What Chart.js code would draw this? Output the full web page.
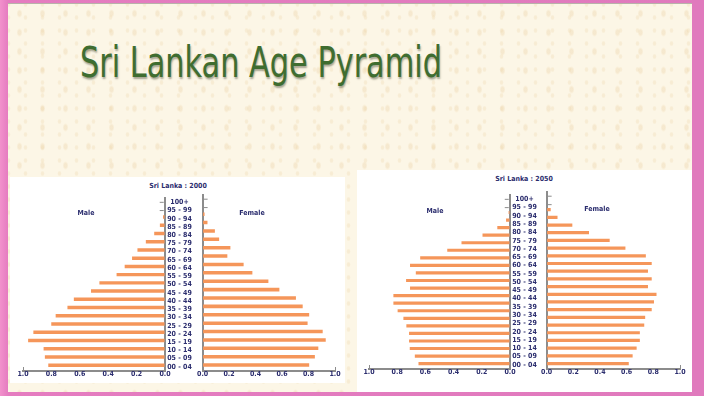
<!DOCTYPE html>
<html>
<head>
<meta charset="utf-8">
<script src="https://cdn.jsdelivr.net/npm/chart.js@4.4.0/dist/chart.umd.min.js"></script>
<style>
html, body { margin: 0; padding: 0; }
body { width: 704px; height: 396px; position: relative; overflow: hidden;
       background: linear-gradient(90deg, #f291cc 0px, #e57cc0 8px, #e07abd 700px); }
#slide { position: absolute; left: 8px; top: 3px; width: 684px; height: 389px;
         border-top: 1px solid #b8b2aa; box-sizing: border-box;
         background-color: #fcf6e6;
         background-image:
           radial-gradient(ellipse 4px 6px at 50% 50%, rgba(236,212,168,0.38) 35%, rgba(255,255,255,0) 75%),
           radial-gradient(ellipse 3px 4px at 50% 50%, rgba(236,212,168,0.3) 35%, rgba(255,255,255,0) 75%);
         background-size: 23px 19px, 17px 13px;
         background-position: 0 0, 9px 7px; }
.panel { position: absolute; background: #fff; }
#panelA { left: 10px; top: 177px; width: 335px; height: 206px; }
#panelB { left: 357px; top: 170px; width: 335px; height: 222px; }
canvas { position: absolute; }
#title { position: absolute; left: 80px; top: 42px; font-family: "DejaVu Sans Condensed", "DejaVu Sans", sans-serif;
         font-size: 42px; line-height: 42px; color: #3f6d30; white-space: nowrap;
         text-shadow: 1px 2px 2px rgba(40, 45, 20, 0.4); transform-origin: 0 0; }
.lbl { position: absolute; font: bold 7px "DejaVu Sans Condensed", sans-serif;
       color: #2b2d6e; transform: translate(-50%, -50%); white-space: nowrap; }
</style>
</head>
<body>
<div id="slide"></div>
<div id="title">Sri Lankan Age Pyramid</div>
<div class="panel" id="panelA"></div>
<div class="panel" id="panelB"></div>

<canvas id="male2000" width="182" height="195" style="left:12px; top:190px;"></canvas>
<canvas id="female2000" width="151" height="195" style="left:194px; top:190px;"></canvas>
<canvas id="male2050" width="182" height="196" style="left:357px; top:187px;"></canvas>
<canvas id="female2050" width="154" height="196" style="left:538px; top:187px;"></canvas>

<div class="lbl" style="left:178px; top:186px;">Sri Lanka : 2000</div>
<div class="lbl" style="left:86px; top:213px;">Male</div>
<div class="lbl" style="left:252px; top:213px;">Female</div>
<div class="lbl" style="left:524px; top:179px;">Sri Lanka : 2050</div>
<div class="lbl" style="left:435px; top:211px;">Male</div>
<div class="lbl" style="left:597px; top:209px;">Female</div>

<script>
var orange = '#f5965a';
var navy = '#2b2d6e';
var axisGray = '#8c8c8c';
var narrow = '"DejaVu Sans Condensed", sans-serif';

// age groups, top of the pyramid first
var ageGroups = ['100+', '95 - 99', '90 - 94', '85 - 89', '80 - 84', '75 - 79', '70 - 74',
                 '65 - 69', '60 - 64', '55 - 59', '50 - 54', '45 - 49', '40 - 44', '35 - 39',
                 '30 - 34', '25 - 29', '20 - 24', '15 - 19', '10 - 14', '05 - 09', '00 - 04'];
// rows drawn with a small dash instead of a bar
var zeroRows = ['100+', '95 - 99'];

var male2000 = [0, 0, 0.014, 0.036, 0.076, 0.135, 0.194, 0.232, 0.284, 0.341, 0.462,
                0.521, 0.642, 0.687, 0.770, 0.801, 0.927, 0.964, 0.855, 0.846, 0.822];
var female2000 = [0, 0, 0.015, 0.037, 0.093, 0.125, 0.210, 0.187, 0.310, 0.376, 0.497,
                  0.580, 0.705, 0.756, 0.805, 0.793, 0.907, 0.930, 0.874, 0.848, 0.805];

// the 2050 bars sit on a tighter grid than its labels (two empty slots on top)
var slots2050 = ['', ''].concat(ageGroups);
var male2050 = [0.010, 0.028, 0.090, 0.195, 0.344, 0.445, 0.637, 0.709, 0.668, 0.737, 0.709,
                0.827, 0.827, 0.797, 0.756, 0.735, 0.716, 0.716, 0.711, 0.675, 0.649];
var female2050 = [0.031, 0.082, 0.193, 0.318, 0.473, 0.591, 0.744, 0.788, 0.760, 0.788, 0.760,
                  0.824, 0.805, 0.788, 0.739, 0.732, 0.699, 0.699, 0.675, 0.645, 0.616];

var labelColumn = 29;

function makeSide(canvasId, values, slots, isMale, pad) {
    var barData = slots.length > values.length ? [null, null].concat(values) : values;
    var ageAxis = {
        type: 'category', labels: ageGroups, offset: true,
        position: isMale ? 'right' : 'left',
        grid: { display: false, drawTicks: false },
        border: { color: axisGray, width: 2 },
        ticks: { display: isMale, color: navy, autoSkip: false, crossAlign: 'center', padding: 4,
                 font: { family: narrow, size: 7, weight: 'bold' } },
        afterFit: function(s) {
            s.width = isMale ? labelColumn : 2;
            // center the age labels in the column between the two axis lines
            if (isMale && s._labelSizes) {
                s.options.ticks.padding = Math.max(0, (labelColumn - s._labelSizes.widest.width) / 2);
            }
        }
    };
    new Chart(document.getElementById(canvasId), {
        type: 'bar',
        data: {
            labels: slots,
            datasets: [{
                data: barData, yAxisID: 'yBar', xAxisID: 'x',
                backgroundColor: orange, barPercentage: 1, categoryPercentage: 0.84
            }, {
                type: 'line', yAxisID: 'yAge', xAxisID: 'x',
                data: zeroRows.map(function(r) { return { x: 0.023, y: r }; }),
                showLine: false, pointStyle: 'line', pointRadius: 2,
                borderColor: axisGray, borderWidth: 1
            }]
        },
        options: {
            indexAxis: 'y', responsive: false, animation: false, events: [],
            layout: { padding: pad },
            plugins: { legend: { display: false }, tooltip: { enabled: false } },
            scales: {
                x: {
                    type: 'linear', min: 0, max: 1, reverse: isMale,
                    grid: { drawOnChartArea: false, tickLength: -4, tickWidth: 1,
                            tickColor: function(c) { return c.tick && c.tick.value === 1 ? axisGray : 'rgba(0,0,0,0)'; } },
                    border: { color: axisGray, width: 2 },
                    ticks: { stepSize: 0.2, color: navy, padding: 3,
                             font: { family: narrow, size: 7, weight: 'bold' },
                             callback: function(v) { return v.toFixed(1); } },
                    afterFit: function(s) { s.height = 14; }
                },
                yBar: { type: 'category', labels: slots, offset: true, display: false },
                yAge: ageAxis
            }
        }
    });
}

makeSide('male2000', male2000, ageGroups, true, { left: 11, top: 4.8, right: 0, bottom: 0 });
makeSide('female2000', female2000, ageGroups, false, { left: 0, top: 4.8, right: 10, bottom: 0 });
makeSide('male2050', male2050, slots2050, true, { left: 12, top: 4.5, right: 0, bottom: 0 });
makeSide('female2050', female2050, slots2050, false, { left: 0, top: 4.5, right: 12, bottom: 0 });

// squeeze the heading to the width it has on the slide
var title = document.getElementById('title');
title.style.transform = 'scaleX(' + (362 / title.getBoundingClientRect().width) + ')';
</script>
</body>
</html>
